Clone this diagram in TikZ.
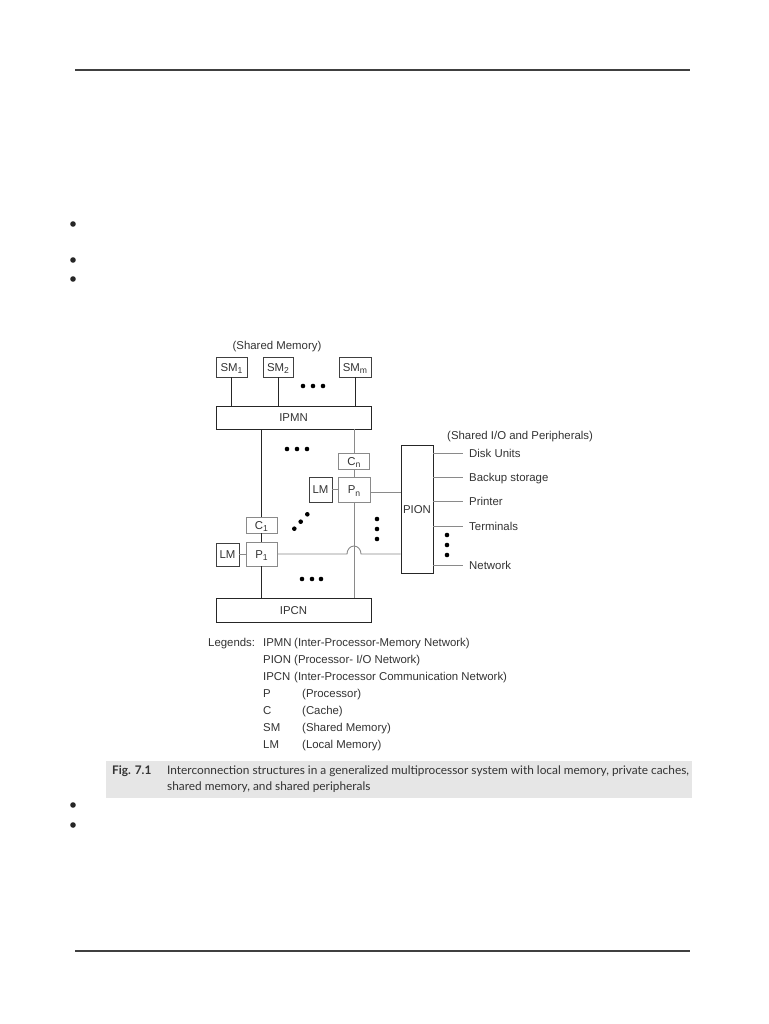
\documentclass[tikz,border=0pt]{standalone}
\usepackage{fontspec}
\setmainfont{Liberation Sans}
\newfontfamily\capfont{Lato}
\definecolor{txt}{HTML}{333333}
\definecolor{lgray}{HTML}{8A8A8A}
\definecolor{capbg}{HTML}{E6E6E6}
\newcommand\mysub[1]{\raisebox{-2.8pt}{\fontsize{8.6}{9}\selectfont #1}}
\begin{document}
\begin{tikzpicture}[x=1pt,y=-1pt,
  blk/.style={draw=black!85, line width=0.9pt},
  gry/.style={draw=lgray, line width=0.9pt},
  bx/.style={draw=black!75, line width=0.9pt, inner sep=0pt, text=txt,
    font=\fontsize{11.4}{13}\selectfont, text height=8.2pt, text depth=0pt, align=center},
  gbx/.style={bx, draw=lgray},
  lbl/.style={inner sep=0pt, anchor=west, text=txt,
    font=\fontsize{11.4}{13}\selectfont, text height=8.2pt, text depth=0pt},
  capt/.style={inner sep=0pt, anchor=west, text=black!80, font=\capfont\fontsize{11.85}{13}\selectfont},
  bul/.style={fill=black!85},
  dt/.style={fill=black}
]
\useasboundingbox[fill=white] (0,0) rectangle (768,1024);

% page rules and bullets
\draw[line width=1.3pt, black!75] (75,70) -- (690,70);
\draw[line width=1.3pt, black!75] (75,951) -- (690,951);
\foreach \yy in {224,260,279,805,825} \fill[bul] (73,\yy) circle (2.8);

% shared memory
\node[lbl, anchor=center] (smt) at (277,345) {(Shared Memory)};
\node[bx, minimum width=31, minimum height=20] (SM1) at (231.5,367) {SM\mysub{1}};
\node[bx, minimum width=30, minimum height=20] (SM2) at (278,367) {SM\mysub{2}};
\node[bx, minimum width=32, minimum height=20] (SMm) at (355,367) {SM\mysub{m}};
\node[bx, draw=black!85, minimum width=155, minimum height=23] (IPMN) at (293.5,417.5) {IPMN};
\draw[blk] (SM1.south) -- (SM1.south |- IPMN.north);
\draw[blk] (SM2.south) -- (SM2.south |- IPMN.north);
\draw[blk] (SMm.south) -- (SMm.south |- IPMN.north);

% processor n
\node[gbx, minimum width=31, minimum height=16] (Cn) at (354,461) {C\mysub{n}};
\node[gbx, minimum width=32, minimum height=25] (Pn) at (354,489.5) {P\mysub{n}};
\node[bx, minimum width=23, minimum height=25] (LMn) at (320.5,489.5) {LM};
\draw[gry] (Cn.north |- IPMN.south) -- (Cn.north);
\draw[gry] (Cn.south) -- (Pn.north);
\draw[gry] (LMn.east) -- (LMn.east -| Pn.west);

% processor 1
\node[gbx, minimum width=31, minimum height=16] (C1) at (261.5,525) {C\mysub{1}};
\node[gbx, minimum width=31, minimum height=24] (P1) at (261.5,554) {P\mysub{1}};
\node[bx, minimum width=23, minimum height=23] (LM1) at (227.5,554.5) {LM};
\draw[blk] (C1.north |- IPMN.south) -- (C1.north);
\draw[blk] (C1.south) -- (P1.north);
\draw[gry] (LM1.east) -- (LM1.east -| P1.west);

% IPCN
\node[bx, draw=black!85, minimum width=155, minimum height=24] (IPCN) at (293.5,610) {IPCN};
\draw[blk] (P1.south) -- (P1.south |- IPCN.north);
\draw[gry] (Pn.south) -- (Pn.south |- IPCN.north);

% PION
\node[bx, draw=black!85, minimum width=32, minimum height=128] (PION) at (417,509) {PION};
\draw[gry] (Pn.east |- 0,492) -- (PION.west |- 0,492);
\coordinate (hopL) at (347,554);
\coordinate (hopR) at (361,554);
\draw[gry] (P1.east) -- (hopL) arc[start angle=180, end angle=360, x radius=7, y radius=8] -- (PION.west |- hopR);

% peripherals
\node[lbl] (iot) at (447,435) {(Shared I/O and Peripherals)};
\coordinate (o1) at (463,453);
\coordinate (o2) at (463,477);
\coordinate (o3) at (463,501);
\coordinate (o4) at (463,526);
\coordinate (o5) at (463,565);
\foreach \o in {o1,o2,o3,o4,o5} \draw[gry] (PION.east |- \o) -- (\o);
\node[lbl] (du) at (469,453) {Disk Units};
\node[lbl] (bs) at (469,477) {Backup storage};
\node[lbl] (pr) at (469,501) {Printer};
\node[lbl] (te) at (469,526) {Terminals};
\node[lbl] (ne) at (469,565) {Network};

% dots
\foreach \xx in {303,313,323} \fill[dt] (\xx,386) circle (2.3);
\foreach \xx in {287,297,307} \fill[dt] (\xx,449) circle (2.3);
\foreach \xx in {302,312,321} \fill[dt] (\xx,579) circle (2.3);
\fill[dt] (294.3,528.7) circle (2.3);
\fill[dt] (300.7,521.7) circle (2.3);
\fill[dt] (307.3,514.3) circle (2.3);
\foreach \yy in {519,529,539} \fill[dt] (377,\yy) circle (2.3);
\foreach \yy in {535,545,555} \fill[dt] (447,\yy) circle (2.3);

% legends
\node[lbl] (lg) at (208,642) {Legends:};
\node[lbl] (a1) at (263,642) {IPMN};
\node[lbl] (a2) at (263,659) {PION};
\node[lbl] (a3) at (263,676) {IPCN};
\node[lbl] (a4) at (263,693) {P};
\node[lbl] (a5) at (263,710) {C};
\node[lbl] (a6) at (263,727) {SM};
\node[lbl] (a7) at (263,744) {LM};
\node[lbl] (b1) at (294,642) {(Inter-Processor-Memory Network)};
\node[lbl] (b2) at (294,659) {(Processor- I/O Network)};
\node[lbl] (b3) at (294,676) {(Inter-Processor Communication Network)};
\node[lbl] (b4) at (302,693) {(Processor)};
\node[lbl] (b5) at (302,710) {(Cache)};
\node[lbl] (b6) at (302,727) {(Shared Memory)};
\node[lbl] (b7) at (302,744) {(Local Memory)};

% caption
\fill[capbg] (106,761) rectangle (692,798);
\node[capt, font=\capfont\bfseries\fontsize{11.85}{13}\selectfont] (fig) at (112,771) {Fig. 7.1};
\node[capt] (cap1) at (167,771) {Interconnection structures in a generalized multiprocessor system with local memory, private caches,};
\node[capt] (cap2) at (167,787) {shared memory, and shared peripherals};
\end{tikzpicture}
\end{document}
